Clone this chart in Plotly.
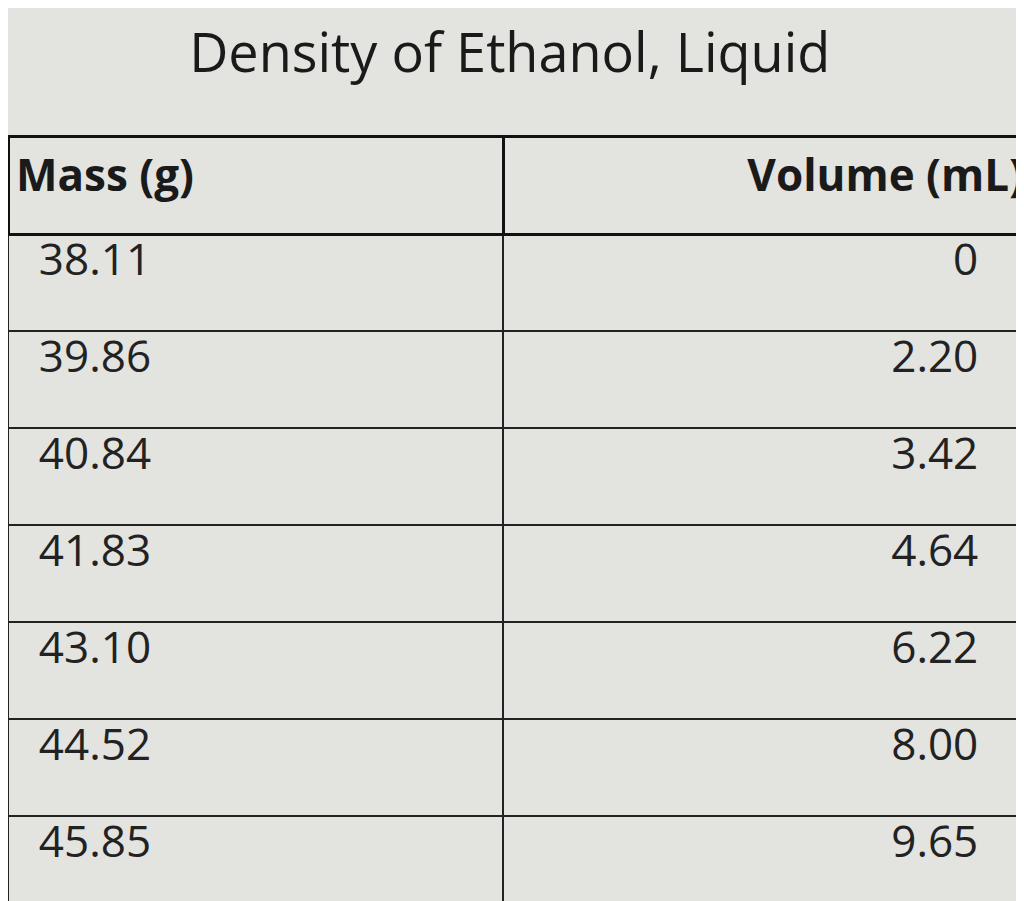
import plotly.graph_objects as go

mass = ["38.11", "39.86", "40.84", "41.83", "43.10", "44.52", "45.85"]
volume = ["0", "2.20", "3.42", "4.64", "6.22", "8.00", "9.65"]
headers = ["<b>Mass (g)</b>", "<b>Volume (mL)</b>"]

bg = "#e3e3df"

fig = go.Figure(go.Table(
    domain=dict(x=[0, 1], y=[0, 1 - 128 / 901]),
    columnwidth=[495, 529],
    header=dict(
        values=headers,
        align=["left", "right"],
        fill_color=bg,
        line=dict(color="#111", width=3),
        font=dict(family="Open Sans", size=44, color="#1a1a1a"),
        height=98,
    ),
    cells=dict(
        values=[["  " + m for m in mass], [v + "    " for v in volume]],
        align=["left", "right"],
        fill_color=bg,
        line=dict(color="#222", width=2),
        font=dict(family="Open Sans", size=44, color="#222"),
        height=97,
    ),
))

fig.update_layout(
    width=1024, height=901,
    margin=dict(l=0, r=0, t=0, b=0),
    paper_bgcolor=bg,
    title=dict(text="Density of Ethanol, Liquid", x=0.49, xanchor="center",
               y=0.95, yanchor="middle",
               font=dict(family="Open Sans", size=54, color="#1a1a1a")),
)

fig.write_html("out.html")
